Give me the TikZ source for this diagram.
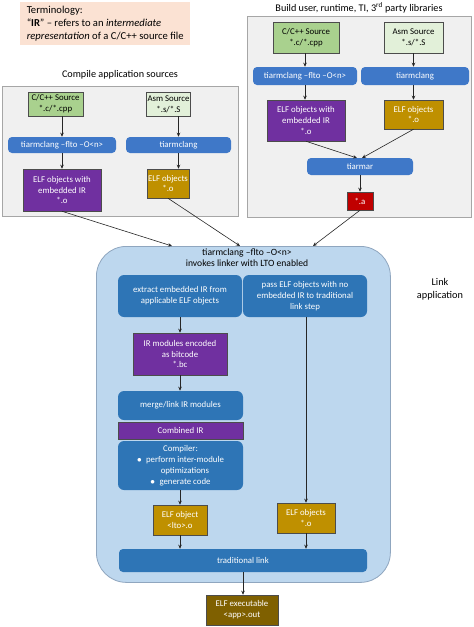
\documentclass[tikz,border=0pt]{standalone}
\usepackage{fontspec}
\setmainfont{Carlito}
\usetikzlibrary{arrows.meta}
\definecolor{peach}{HTML}{FBE2D3}
\definecolor{greybg}{HTML}{F0F0F0}
\definecolor{greybd}{HTML}{A6A6A6}
\definecolor{srcgreen}{HTML}{A9D18E}
\definecolor{asmgreen}{HTML}{E2F0D9}
\definecolor{barblue}{HTML}{3F78C8}
\definecolor{inblue}{HTML}{2E75B6}
\definecolor{lightblue}{HTML}{BDD7EE}
\definecolor{bigbd}{HTML}{8FA6BF}
\definecolor{irpurple}{HTML}{7030A0}
\definecolor{gold}{HTML}{BF9000}
\definecolor{libred}{HTML}{C00000}
\definecolor{brown}{HTML}{7F6000}
\tikzset{
  x=1pt, y=-1pt,
  box/.style={draw=black!70, line width=0.5pt, inner sep=1pt, align=center, font=\fontsize{8.8}{10.8}\selectfont},
  srcbox/.style={box, fill=srcgreen, text=black},
  asmbox/.style={box, fill=asmgreen, text=black},
  barbox/.style={box, draw=none, fill=barblue, rounded corners=4pt, text=white},
  inbox/.style={box, draw=none, fill=inblue, rounded corners=6pt, text=white},
  purbox/.style={box, fill=irpurple, text=white},
  goldbox/.style={box, fill=gold, text=white},
  redbox/.style={box, fill=libred, text=white},
  exebox/.style={box, fill=brown, text=white},
  arr/.style={-{Stealth[length=4pt,width=3.5pt]}, line width=0.6pt, draw=black!85},
  ttl/.style={font=\fontsize{10.2}{12}\selectfont, align=center},
}
\begin{document}
\begin{tikzpicture}
\useasboundingbox (0,0) rectangle (474,627);
\fill[white] (0,0) rectangle (474,627);

% terminology
\node[fill=peach, anchor=north west, minimum width=170pt, minimum height=43pt, align=left, inner xsep=6pt, inner ysep=2pt, font=\fontsize{10.6}{13.2}\selectfont] (term) at (20,2)
 {Terminology:\\``\textbf{IR}'' -- refers to an \textit{intermediate}\\\textit{representation} of a C/C++ source file};

% left group
\node[ttl] (ltitle) at (120,75) {Compile application sources};
\node[draw=greybd, fill=greybg, line width=0.8pt, anchor=north west, minimum width=236pt, minimum height=130pt, inner sep=0pt] (lgrp) at (2,86) {};
\node[srcbox, minimum width=55pt, minimum height=24pt] (lsrc) at (55.5,104) {C/C++ Source\\*.c/*.cpp};
\node[asmbox, minimum width=41pt, minimum height=24pt] (lasm) at (168.5,104) {Asm Source\\*.s/*.S};
\node[barbox, minimum width=108pt, minimum height=16pt] (lclang) at (62,145) {tiarmclang --flto --O<n>};
\node[barbox, minimum width=105pt, minimum height=16pt] (lclang2) at (178.5,145) {tiarmclang};
\node[purbox, minimum width=78pt, minimum height=42pt] (lelfir) at (62,190) {ELF objects with\\embedded IR\\*.o};
\node[goldbox, minimum width=38pt, minimum height=29pt] (lelf) at (168,183.5) {ELF objects\\*.o};
\draw[arr] (lsrc.south -| lclang) -- (lclang.north);
\draw[arr] (lasm.south -| lclang2) -- (lclang2.north);
\draw[arr] (lclang) -- (lelfir);
\draw[arr] (lclang2) -- (lelf.north -| lclang2);

% right group
\node[ttl] (rtitle) at (359,8) {Build user, runtime, TI, 3\textsuperscript{rd} party libraries};
\node[draw=greybd, fill=greybg, line width=0.8pt, anchor=north west, minimum width=224pt, minimum height=201pt, inner sep=0pt] (rgrp) at (247,16) {};
\node[srcbox, minimum width=66pt, minimum height=31pt] (rsrc) at (306,37.5) {C/C++ Source\\*.c/*.cpp};
\node[asmbox, minimum width=59pt, minimum height=31pt] (rasm) at (413.5,37.5) {Asm Source\\*.s/*.S};
\node[barbox, minimum width=104pt, minimum height=18pt] (rclang) at (305,76) {tiarmclang --flto --O<n>};
\node[barbox, minimum width=108pt, minimum height=18pt] (rclang2) at (415,76) {tiarmclang};
\node[purbox, minimum width=78pt, minimum height=41pt] (relfir) at (306,120.5) {ELF objects with\\embedded IR\\*.o};
\node[goldbox, minimum width=59pt, minimum height=29pt] (relf) at (413.5,114.5) {ELF objects\\*.o};
\node[barbox, minimum width=106pt, minimum height=17pt] (tiarmar) at (360,166.5) {tiarmar};
\node[redbox, minimum width=26pt, minimum height=18pt] (ra) at (360,201) {*.a};
\coordinate (arL) at (357,158);
\coordinate (arR) at (362,158);
\draw[arr] (rsrc.south -| rclang) -- (rclang.north);
\draw[arr] (rasm.south) -- (rasm.south |- rclang.north);
\draw[arr] (rclang) -- (relfir.north -| rclang);
\draw[arr] (rasm.south |- rclang.south) -- (relf.north);
\draw[arr] (relfir.south) -- (arL);
\draw[arr] (relf.south) -- (arR);
\draw[arr] (tiarmar) -- (ra);

% big link box
\node[draw=bigbd, fill=lightblue, line width=0.8pt, rounded corners=30pt, anchor=north west, minimum width=294pt, minimum height=336pt, inner sep=0pt] (big) at (96,246) {};
\node[ttl, font=\fontsize{9.6}{11}\selectfont] (btitle) at (247,258) {tiarmclang --flto --O<n>\\invokes linker with LTO enabled};
\node[ttl, font=\fontsize{10.3}{12.5}\selectfont] (linkapp) at (440,289) {Link\\application};
\coordinate (t1) at (172,246);
\coordinate (t2) at (240,246);
\coordinate (t3) at (313,246);
\draw[arr] (lelfir.south) -- (t1);
\draw[arr] (lelf.south) -- (t2);
\draw[arr] (ra.south) -- (t3);

\node[inbox, minimum width=124pt, minimum height=42pt] (extract) at (180,296) {extract embedded IR from\\applicable ELF objects};
\node[inbox, minimum width=124pt, minimum height=42pt] (pass) at (305,296) {pass ELF objects with no\\embedded IR to traditional\\link step};
\node[purbox, minimum width=94pt, minimum height=42pt] (irmod) at (180,354) {IR modules encoded\\as bitcode\\*.bc};
\node[inbox, minimum width=125pt, minimum height=29pt] (merge) at (180.5,405.5) {merge/link IR modules};
\node[purbox, minimum width=125pt, minimum height=17pt] (comb) at (180.5,430.5) {Combined IR};
\node[inbox, minimum width=125pt, minimum height=49pt, font=\fontsize{8.8}{11.2}\selectfont] (comp) at (180.5,465.5) {Compiler:\\$\bullet$\enspace perform inter-module\\\quad optimizations\\$\bullet$\enspace generate code};
\node[goldbox, minimum width=54pt, minimum height=30pt] (elflto) at (180,520) {ELF object\\<lto>.o};
\node[goldbox, minimum width=58pt, minimum height=30pt] (elfo) at (306,518) {ELF objects\\*.o};
\node[inbox, rounded corners=4pt, minimum width=248pt, minimum height=23pt] (tlink) at (243,560.5) {traditional link};
\node[exebox, minimum width=72pt, minimum height=30pt] (exe) at (242,610) {ELF executable\\<app>.out};

\draw[arr] (extract.south) -- (irmod.north);
\draw[arr] (irmod.south) -- (merge.north -| irmod);
\draw[arr] (comp.south -| elflto) -- (elflto.north);
\draw[arr] (pass.south -| elfo) -- (elfo.north);
\draw[arr] (elflto.south) -- (tlink.north -| elflto);
\draw[arr] (elfo.south) -- (tlink.north -| elfo);
\draw[arr] (tlink.south) -- (exe.north -| tlink);
\end{tikzpicture}
\end{document}
